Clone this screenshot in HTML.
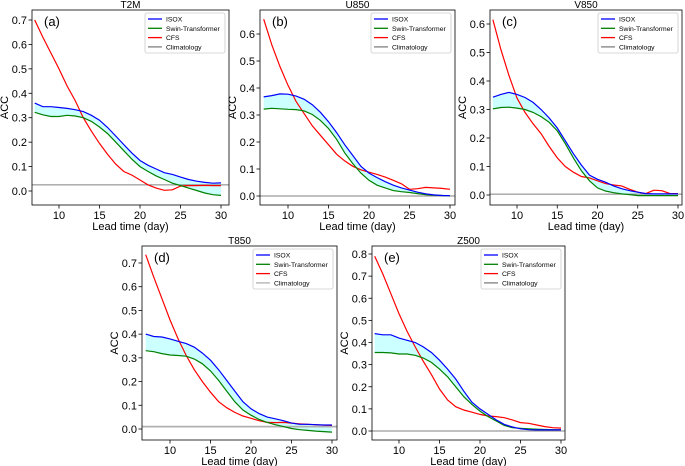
<!DOCTYPE html>
<html><head><meta charset="utf-8"><style>
html,body{margin:0;padding:0;background:#fff;}
svg{display:block;font-family:"Liberation Sans","DejaVu Sans",sans-serif;}
</style></head><body>
<svg id="chart" width="685" height="466" viewBox="0 0 685 466" xmlns="http://www.w3.org/2000/svg"></svg>
<script>
const days=[7,8,9,10,11,12,13,14,15,16,17,18,19,20,21,22,23,24,25,26,27,28,29,30];
const panelTitles=["T2M","U850","V850","T850","Z500"];
const panelLabels=["(a)","(b)","(c)","(d)","(e)"];
const seriesNames=["ISOX","Swin-Transformer","CFS","Climatology"];
const isoxA=[.36,.345,.345,.342,.338,.333,.325,.31,.29,.26,.225,.19,.155,.125,.105,.09,.075,.068,.057,.047,.04,.035,.032,.033];
const swinA=[.322,.312,.305,.305,.31,.307,.3,.285,.262,.235,.2,.165,.13,.1,.08,.062,.047,.032,.022,.012,.002,-.008,-.015,-.018];
const cfsA=[.70,.63,.565,.5,.43,.37,.30,.245,.195,.15,.11,.08,.065,.045,.025,.012,.003,.005,.02,.022,.022,.023,.022,.022];
const climA=0.025;
const isoxB=[.367,.372,.378,.377,.37,.358,.338,.31,.275,.235,.19,.15,.11,.085,.068,.053,.04,.03,.022,.014,.008,.004,.002,.001];
const swinB=[.322,.325,.323,.321,.32,.315,.302,.28,.25,.21,.16,.12,.085,.058,.04,.03,.02,.016,.013,.009,.005,.003,.002,.001];
const cfsB=[.655,.56,.48,.41,.35,.305,.26,.225,.19,.155,.13,.11,.097,.088,.08,.07,.058,.045,.025,.027,.032,.03,.028,.025];
const climB=0;
const isoxC=[.343,.353,.36,.353,.342,.325,.3,.27,.235,.19,.145,.105,.07,.055,.045,.032,.022,.015,.01,.005,.004,.004,.004,.004];
const swinC=[.302,.307,.308,.305,.3,.29,.275,.255,.225,.18,.13,.085,.05,.025,.014,.008,.004,.001,-.002,-.002,-.002,-.002,-.002,-.002];
const cfsC=[.615,.51,.42,.34,.29,.25,.215,.17,.13,.1,.08,.065,.06,.05,.04,.035,.032,.02,.01,.005,.017,.015,.005,.005];
const climC=0.003;
const isoxD=[.40,.39,.388,.38,.37,.36,.345,.32,.29,.25,.205,.16,.115,.085,.065,.05,.043,.035,.025,.02,.02,.018,.017,.017];
const swinD=[.33,.326,.318,.312,.31,.307,.295,.275,.245,.205,.16,.115,.08,.058,.04,.028,.018,.01,.002,-.003,-.006,-.009,-.011,-.013];
const cfsD=[.735,.64,.55,.46,.38,.31,.25,.2,.155,.115,.09,.07,.055,.045,.035,.028,.027,.028,.025,.022,.02,.018,.016,.015];
const climD=0.01;
const isoxE=[.44,.435,.435,.42,.41,.4,.38,.355,.32,.28,.235,.18,.13,.1,.075,.05,.03,.018,.01,.006,.005,.005,.005,.005];
const swinE=[.355,.355,.353,.348,.348,.342,.33,.31,.28,.245,.2,.155,.12,.09,.065,.045,.025,.015,.012,.01,.008,.007,.006,.005];
const cfsE=[.79,.71,.62,.53,.45,.38,.315,.255,.19,.14,.11,.095,.085,.075,.068,.065,.06,.05,.038,.035,.027,.02,.015,.013];
const climE=0;
const xTicks=[10,15,20,25,30];
const yTicksA=[0,.1,.2,.3,.4,.5,.6,.7];
const yTicksB=[0,.1,.2,.3,.4,.5,.6];
const yTicksE=[0,.1,.2,.3,.4,.5,.6,.7,.8];

const NS="http://www.w3.org/2000/svg";
const svg=document.getElementById('chart');
function mk(tag,attrs,parent){const e=document.createElementNS(NS,tag);for(const k in attrs)e.setAttribute(k,attrs[k]);(parent||svg).appendChild(e);return e;}

const layouts=[
 {L:32,R:229,T:10,B:205,x10:59,x30:221,y0:191,ytop:20,ytv:.7},
 {L:260,R:455,T:10,B:205,x10:288,x30:450,y0:196,ytop:34,ytv:.6},
 {L:490,R:682,T:10,B:205,x10:517,x30:678,y0:195,ytop:24,ytv:.6},
 {L:142,R:337,T:246,B:440,x10:170,x30:332,y0:429,ytop:263,ytv:.7},
 {L:372,R:565,T:246,B:440,x10:399,x30:561,y0:431,ytop:254,ytv:.8}
];
const data=[
 [isoxA,swinA,cfsA,climA,yTicksA],
 [isoxB,swinB,cfsB,climB,yTicksB],
 [isoxC,swinC,cfsC,climC,yTicksB],
 [isoxD,swinD,cfsD,climD,yTicksA],
 [isoxE,swinE,cfsE,climE,yTicksE]
];
const colors=["#0000ff","#008000","#ff0000","#808080"];

layouts.forEach((ly,p)=>{
  const [iso,swin,cfs,clim,yt]=data[p];
  const g=mk('g',{});
  
  
  const xs=d=>ly.x10+(d-10)*(ly.x30-ly.x10)/20;
  const ys=v=>ly.y0-v*(ly.y0-ly.ytop)/ly.ytv;
  const ptsOf=arr=>arr.map((v,i)=>xs(days[i]).toFixed(1)+','+ys(v).toFixed(1));
  const fillPts=ptsOf(iso).concat(ptsOf(swin).reverse());
  const f=mk('polygon',{points:fillPts.join(' '),fill:'#ccffff',stroke:'none'},g);
  
  
  const cl=mk('line',{x1:ly.L,x2:ly.R,y1:ys(clim),y2:ys(clim),stroke:p==3?'#b0b0b0':'#808080','stroke-width':p==3?1.8:1},g);
  
  
  [[cfs,2,'cfs-line'],[swin,1,'swin-transformer-line'],[iso,0,'isox-line']].forEach(([arr,c,nm])=>{
    const pl=mk('polyline',{points:ptsOf(arr).join(' '),fill:'none',stroke:colors[c],'stroke-width':1.2},g);
    
    
  });
  const fr=mk('rect',{x:ly.L,y:ly.T,width:ly.R-ly.L,height:ly.B-ly.T,fill:'none',stroke:'#000','stroke-width':0.8},g);
  
  
  xTicks.forEach(t=>{
    const x=xs(t);
    mk('line',{x1:x,x2:x,y1:ly.B,y2:ly.B+3.5,stroke:'#000','stroke-width':0.8},g);
    const tx=mk('text',{x:x,y:ly.B+14,'font-size':11,'text-anchor':'middle'},g);
    tx.textContent=t;
    
    
  });
  yt.forEach(t=>{
    const y=ys(t);
    mk('line',{x1:ly.L-3.5,x2:ly.L,y1:y,y2:y,stroke:'#000','stroke-width':0.8},g);
    const tx=mk('text',{x:ly.L-5,y:y+4,'font-size':11,'text-anchor':'end'},g);
    tx.textContent=t.toFixed(1);
    
    
  });
  const xl=mk('text',{x:(ly.L+ly.R)/2,y:ly.B+25,'font-size':11,'text-anchor':'middle'},g);
  xl.textContent='Lead time (day)';
  
  
  const yx=ly.L-24, yy=(ly.T+ly.B)/2;
  const yl=mk('text',{x:yx,y:yy,'font-size':11,'text-anchor':'middle',transform:`rotate(-90 ${yx} ${yy})`},g);
  yl.textContent='ACC';
  
  
  const ti=mk('text',{x:(ly.L+ly.R)/2,y:ly.T-2,'font-size':10,'text-anchor':'middle'},g);
  ti.textContent=panelTitles[p];
  
  
  const pl=mk('text',{x:ly.L+12,y:ly.T+16,'font-size':13},g);
  pl.textContent=panelLabels[p];
  
  
  const lg=mk('g',{},g);
  
  
  const lx=ly.R-84, ly0=ly.T+3;
  mk('rect',{x:lx,y:ly0,width:80,height:40,fill:'#fff',stroke:'#ccc','stroke-width':0.8,rx:2},lg);
  seriesNames.forEach((n,i)=>{
    const y=ly0+6+i*9.3;
    const ln=mk('line',{x1:lx+3,x2:lx+17,y1:y,y2:y,stroke:(p==3&&i==3)?'#b0b0b0':colors[i],'stroke-width':1.3},lg);
    
    
    const t=mk('text',{x:lx+21,y:y+2.5,'font-size':6.8},lg);
    t.textContent=n;
    
    
  });
});
</script>
</body></html>
